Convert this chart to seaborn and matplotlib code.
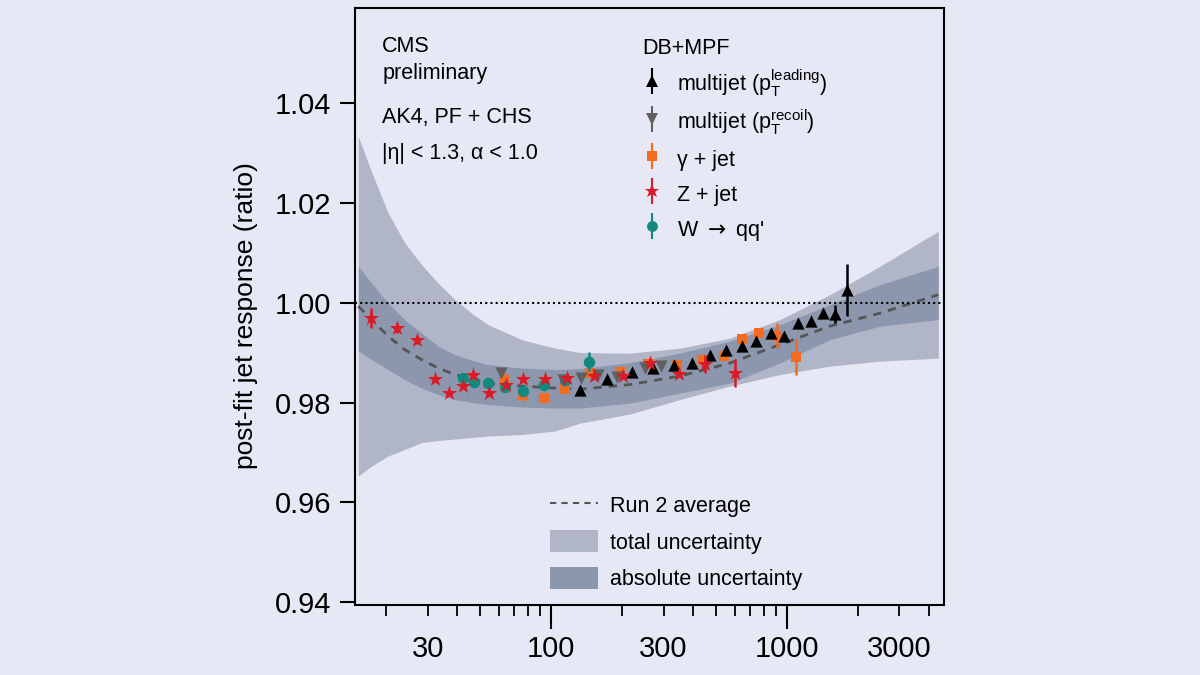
import matplotlib
matplotlib.use("Agg")
import numpy as np
import pandas as pd
import seaborn as sns
import matplotlib.pyplot as plt
from matplotlib.lines import Line2D
from matplotlib.patches import Patch
from matplotlib.legend_handler import HandlerTuple
from matplotlib.ticker import FixedLocator, FixedFormatter

# Run 2 average and uncertainty bands
band_pt = [15.25, 17.4, 20.4, 24.0, 28.3, 33.3, 39.2, 46.1, 54.2, 75.2, 104,
           133, 216, 352, 573, 933, 1520, 2480, 4380]
run2_avg = [0.9993, 0.9966, 0.9933, 0.9906, 0.9886, 0.9869, 0.9856, 0.9847, 0.9839, 0.9833, 0.9829,
            0.9827, 0.9836, 0.9853, 0.9879, 0.9916, 0.9953, 0.9979, 1.0016]
total_hi = [1.0333, 1.0261, 1.0180, 1.0120, 1.0076, 1.0039, 1.0006, 0.9979, 0.9956, 0.9926, 0.9909,
            0.9900, 0.9899, 0.9909, 0.9929, 0.9966, 1.0016, 1.0073, 1.0143]
total_lo = [0.9653, 0.9673, 0.9693, 0.9706, 0.9720, 0.9724, 0.9727, 0.9730, 0.9733, 0.9736, 0.9743,
            0.9759, 0.9777, 0.9806, 0.9833, 0.9856, 0.9873, 0.9883, 0.9889]
abs_hi = [1.0073, 1.0039, 0.9999, 0.9966, 0.9939, 0.9913, 0.9896, 0.9885, 0.9876, 0.9869, 0.9866,
          0.9868, 0.9880, 0.9899, 0.9923, 0.9956, 0.9996, 1.0036, 1.0073]
abs_lo = [0.9903, 0.9886, 0.9866, 0.9846, 0.9829, 0.9816, 0.9806, 0.9800, 0.9796, 0.9791, 0.9789,
          0.9789, 0.9799, 0.9819, 0.9839, 0.9879, 0.9926, 0.9953, 0.9966]

# data points
mjl_pt = [133, 172, 220, 270, 332, 396, 472, 551, 644, 740, 855, 972, 1115, 1263, 1420, 1600, 1795]
mjl_r = [0.9826, 0.9848, 0.9862, 0.9870, 0.9876, 0.9880, 0.9896, 0.9906, 0.9914, 0.9924,
         0.9940, 0.9934, 0.9960, 0.9964, 0.9980, 0.9978, 1.0026]
mjl_err = [0.0004, 0.0004, 0.0004, 0.0004, 0.0004, 0.0004, 0.0004, 0.0004, 0.0004, 0.0004,
           0.0005, 0.0005, 0.0006, 0.0006, 0.0008, 0.0018, 0.0052]

mjr_pt = [61.4, 112, 134, 158, 190, 250, 292]
mjr_r = [0.9860, 0.9846, 0.9850, 0.9856, 0.9852, 0.9870, 0.9874]
mjr_err = [0.0004, 0.0004, 0.0004, 0.0004, 0.0004, 0.0004, 0.0004]

gam_pt = [63.2, 76, 93.4, 114.6, 146, 196, 257, 341, 440, 541, 644, 761, 905, 1090]
gam_r = [0.9846, 0.9816, 0.9810, 0.9828, 0.9860, 0.9862, 0.9878, 0.9876, 0.9886, 0.9894,
         0.9928, 0.9940, 0.9934, 0.9892]
gam_err = [0.0020, 0.0012, 0.0005, 0.0005, 0.0008, 0.0005, 0.0005, 0.0005, 0.0006, 0.0005,
           0.0006, 0.0007, 0.0025, 0.0036]

z_pt = [17.3, 22.2, 27.1, 32.2, 37, 42.4, 46.7, 54.6, 64.4, 76, 94.3, 117, 152, 202, 262, 348, 449, 603]
z_r = [0.9970, 0.9950, 0.9926, 0.9848, 0.9820, 0.9834, 0.9856, 0.9820, 0.9836, 0.9848,
       0.9848, 0.9850, 0.9854, 0.9854, 0.9880, 0.9858, 0.9878, 0.9860]
z_err = [0.0020, 0.0010, 0.0008, 0.0005, 0.0005, 0.0005, 0.0005, 0.0005, 0.0005, 0.0005,
         0.0005, 0.0005, 0.0005, 0.0005, 0.0005, 0.0006, 0.0018, 0.0028]

w_pt = [42.4, 47.1, 54.1, 63.9, 76, 93.4, 114.6, 144.8]
w_r = [0.9850, 0.9842, 0.9840, 0.9832, 0.9824, 0.9836, 0.9846, 0.9882]
w_err = [0.0005, 0.0005, 0.0005, 0.0005, 0.0005, 0.0005, 0.0005, 0.0019]

y_ticks = [0.94, 0.96, 0.98, 1.00, 1.02, 1.04]
x_major = [100, 1000]
x_minor = [20, 30, 40, 50, 60, 70, 80, 90, 200, 300, 400, 500, 600, 700, 800, 900, 2000, 3000, 4000]
x_labeled = {30: "30", 100: "100", 300: "300", 1000: "1000", 3000: "3000"}

BG = "#e6e9f5"
C_TOTAL = "#b0b6c8"
C_ABS = "#8c97ad"
FS = 15.5

sns.set_theme(style="ticks", rc={"figure.facecolor": BG, "axes.facecolor": BG,
                                 "axes.edgecolor": "black", "axes.linewidth": 1.5,
                                 "text.color": "black", "axes.labelcolor": "black",
                                 "xtick.color": "black", "ytick.color": "black"})
plt.rcParams["font.family"] = ["Liberation Sans", "DejaVu Sans"]

fig = plt.figure(figsize=(12, 6.75), dpi=100)
ax = fig.add_axes([0.296, 0.104, 0.491, 0.884])

ax.fill_between(band_pt, total_lo, total_hi, color=C_TOTAL, lw=0, zorder=1)
ax.fill_between(band_pt, abs_lo, abs_hi, color=C_ABS, lw=0, zorder=2)
sns.lineplot(x=band_pt, y=run2_avg, ax=ax, color="#555555", lw=2, zorder=3)
ax.lines[-1].set_dashes([3, 2.5])
ax.axhline(1.0, color="black", lw=1.5, ls=(0, (1, 1.5)), zorder=3)

samples = [
    ("gamma", gam_pt, gam_r, gam_err, "s", "#f26b21", 55),
    ("w", w_pt, w_r, w_err, "o", "#12897f", 68),
    ("recoil", mjr_pt, mjr_r, mjr_err, "v", "#606060", 78),
    ("leading", mjl_pt, mjl_r, mjl_err, "^", "black", 78),
    ("z", z_pt, z_r, z_err, "*", "#d81b26", 135),
]
for i, (name, pt, r, err, mk, col, size) in enumerate(samples):
    ax.errorbar(pt, r, yerr=err, fmt="none", ecolor=col, elinewidth=1.8, zorder=4 + i)
    sns.scatterplot(x=pt, y=r, ax=ax, marker=mk, color=col, s=size, linewidth=0, zorder=4.5 + i)

ax.set_xscale("log")
ax.set_xlim(14.8, 4650)
ax.set_ylim(0.9395, 1.059)
ax.xaxis.set_major_locator(FixedLocator(x_major))
ax.xaxis.set_major_formatter(FixedFormatter([x_labeled[t] for t in x_major]))
ax.xaxis.set_minor_locator(FixedLocator(x_minor))
ax.xaxis.set_minor_formatter(FixedFormatter([x_labeled.get(t, "") for t in x_minor]))
ax.set_yticks(y_ticks)
ax.set_yticklabels([f"{t:.2f}" for t in y_ticks])
ax.tick_params(axis="x", which="major", length=17, width=1.5, pad=5, labelsize=21)
ax.tick_params(axis="x", which="minor", length=8, width=1.3, pad=14, labelsize=21)
ax.tick_params(axis="y", which="major", length=11, width=1.5, pad=6, labelsize=21)
ax.set_ylabel("post-fit jet response (ratio)", fontsize=19, labelpad=12)
ax.yaxis.label.set_y(0.485)
ax.set_xlabel("")

for s in ax.spines.values():
    s.set_visible(True)
    s.set_linewidth(1.5)
    s.set_color("black")

txt = dict(transform=ax.transAxes, fontsize=FS, ha="left", va="center")
ax.text(0.046, 0.935, "CMS", **txt)
ax.text(0.046, 0.891, "preliminary", **txt)
ax.text(0.046, 0.817, "AK4, PF + CHS", **txt)
ax.text(0.046, 0.757, "|η| < 1.3, α < 1.0", **txt)

labels = ["multijet ($\\mathregular{p_T^{leading}}$)", "multijet ($\\mathregular{p_T^{recoil}}$)",
          "γ + jet", "Z + jet", "W $\\rightarrow$ qq'"]
order = [3, 2, 0, 4, 1]
handles = []
for idx in order:
    name, pt, r, err, mk, col, size = samples[idx]
    bar = Line2D([0], [0], marker="|", ms=19, mew=1.5, color=col, ls="none")
    dot = Line2D([0], [0], marker=mk, ms=np.sqrt(size) * 0.95, color=col, ls="none", mew=0)
    handles.append((bar, dot))
leg1 = ax.legend(handles, labels, handler_map={tuple: HandlerTuple(ndivide=1)},
                 loc="upper left", bbox_to_anchor=(0.455, 0.983), frameon=False,
                 title="DB+MPF", title_fontsize=FS, fontsize=FS, alignment="left",
                 handlelength=0.9, handleheight=1.5, handletextpad=0.7, labelspacing=0.4)
ax.add_artist(leg1)

h2 = [Line2D([0], [0], color="#555555", lw=1.5, ls=(0, (3, 2.5))),
      Patch(facecolor=C_TOTAL, edgecolor="none"),
      Patch(facecolor=C_ABS, edgecolor="none")]
ax.legend(h2, ["Run 2 average", "total uncertainty", "absolute uncertainty"],
          loc="upper left", bbox_to_anchor=(0.298, 0.218), frameon=False, fontsize=FS,
          handlelength=2.2, handleheight=1.2, handletextpad=0.6, labelspacing=0.6)

fig.savefig("out.png", dpi=100, facecolor=BG)
